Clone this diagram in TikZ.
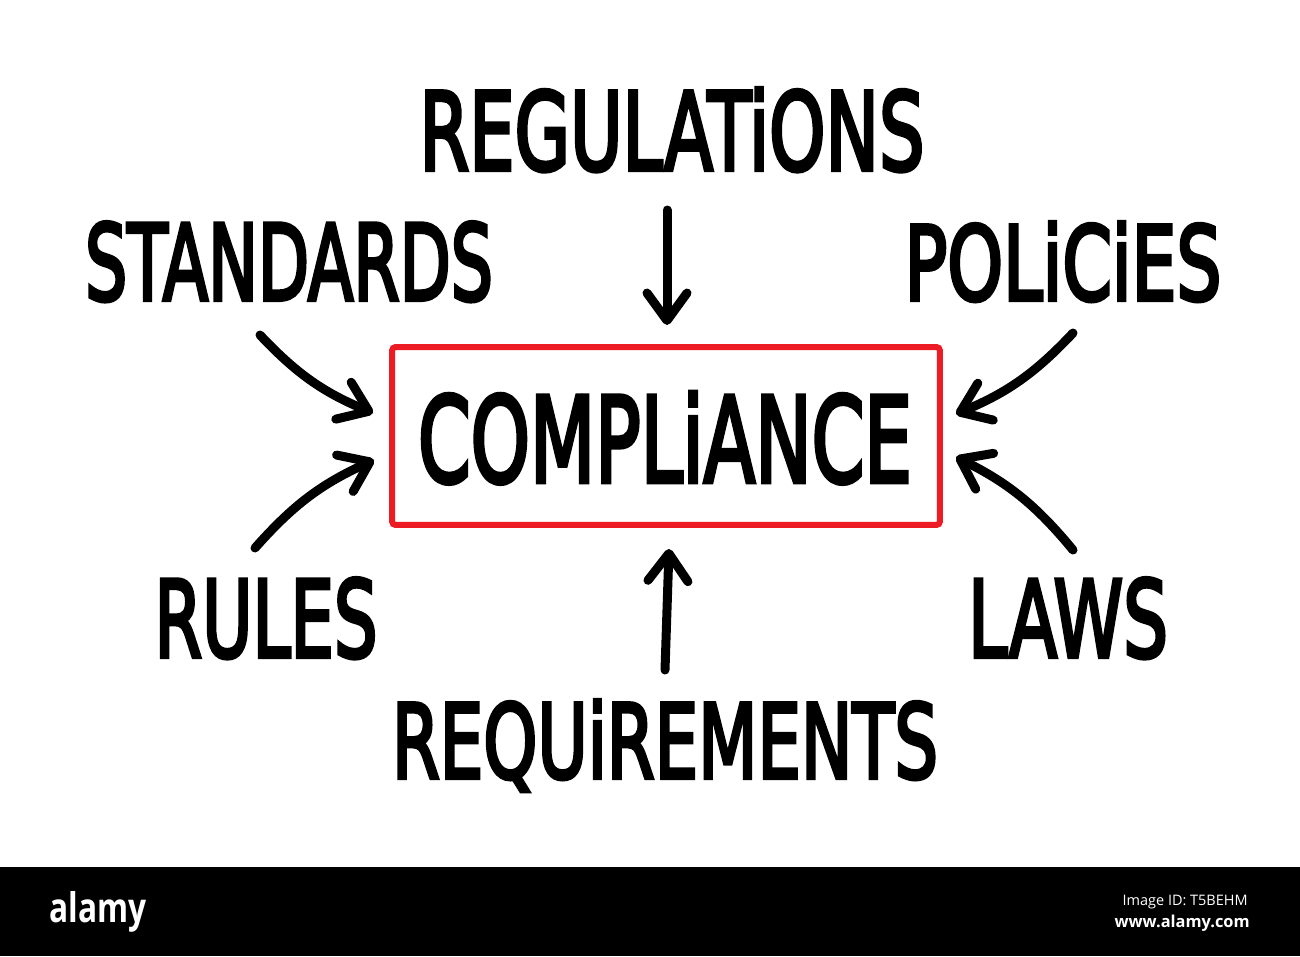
\documentclass[tikz,border=0pt]{standalone}
\usepackage{fontspec}
\usepackage{graphicx}
\setmainfont{DejaVu Sans}
\newfontfamily\handfont[FakeBold=4]{DejaVu Sans}
\newfontfamily\wmfont{Open Sans}
\usetikzlibrary{arrows.meta}
\definecolor{boxred}{RGB}{237,28,36}
\newcommand\fitword[3]{\resizebox{#1}{#2}{\handfont #3}}
\begin{document}
\begin{tikzpicture}[x=0.02cm,y=-0.02cm,
  word/.style={inner sep=0pt,anchor=base,text=black},
  conn/.style={line width=0.18cm,line cap=round,line join=round,
    -{Straight Barb[length=0.55cm,width=0.8cm,line cap=round,line join=round]}},
  hub/.style={draw=boxred,line width=0.12cm,rounded corners=2pt,minimum width=10.96cm,minimum height=3.56cm,inner sep=0pt}]
\useasboundingbox (0,0) rectangle (1300,956);
\fill[white] (0,0) rectangle (1300,956);
% bottom bar
\fill[black] (0,867) rectangle (1300,956);
\node[word,text=white] (alamy) at (98,922) {\resizebox{1.94cm}{0.62cm}{\wmfont\bfseries alamy}};
\node[inner sep=0pt,anchor=base east,text=white] (imgid) at (1248,905) {\resizebox{2.5cm}{!}{\wmfont Image ID: T5BEHM}};
\node[inner sep=0pt,anchor=base east,text=white] (www) at (1250,927) {\resizebox{2.7cm}{!}{\wmfont\bfseries www.alamy.com}};
% central box
\node[hub] (box) at (666,436) {};
\node[word] (comp) at (665,482) {\fitword{9.88cm}{1.8cm}{COMPLiANCE}};
% labels
\node[word] (reg) at (672,170) {\fitword{10.1cm}{1.64cm}{REGULATiONS}};
\node[word] (std) at (289,300) {\fitword{8.16cm}{1.56cm}{STANDARDS}};
\node[word] (pol) at (1063,300) {\fitword{6.34cm}{1.56cm}{POLiCiES}};
\node[word] (rul) at (266,657) {\fitword{4.46cm}{1.58cm}{RULES}};
\node[word] (law) at (1068,657) {\fitword{4.0cm}{1.58cm}{LAWS}};
\node[word] (req) at (665,778) {\fitword{10.92cm}{1.56cm}{REQUiREMENTS}};
% arrow end points
\coordinate (regT) at (667,210);
\coordinate (regH) at (667,325);
\coordinate (reqT) at (665,670);
\coordinate (reqH) at (669,549);
\coordinate (stdT) at (260,335);
\coordinate (stdH) at (373,413);
\coordinate (rulT) at (255,548);
\coordinate (rulH) at (374,460);
\coordinate (polT) at (1073,333);
\coordinate (polH) at (956,414);
\coordinate (lawT) at (1073,550);
\coordinate (lawH) at (956,457);
\draw[conn] (regT) -- (regH);
\draw[conn] (reqT) -- (reqH);
\draw[conn] (stdT) to[bend right=12] (stdH);
\draw[conn] (rulT) to[bend left=12] (rulH);
\draw[conn] (polT) to[bend left=12] (polH);
\draw[conn] (lawT) to[bend right=12] (lawH);
\end{tikzpicture}
\end{document}
